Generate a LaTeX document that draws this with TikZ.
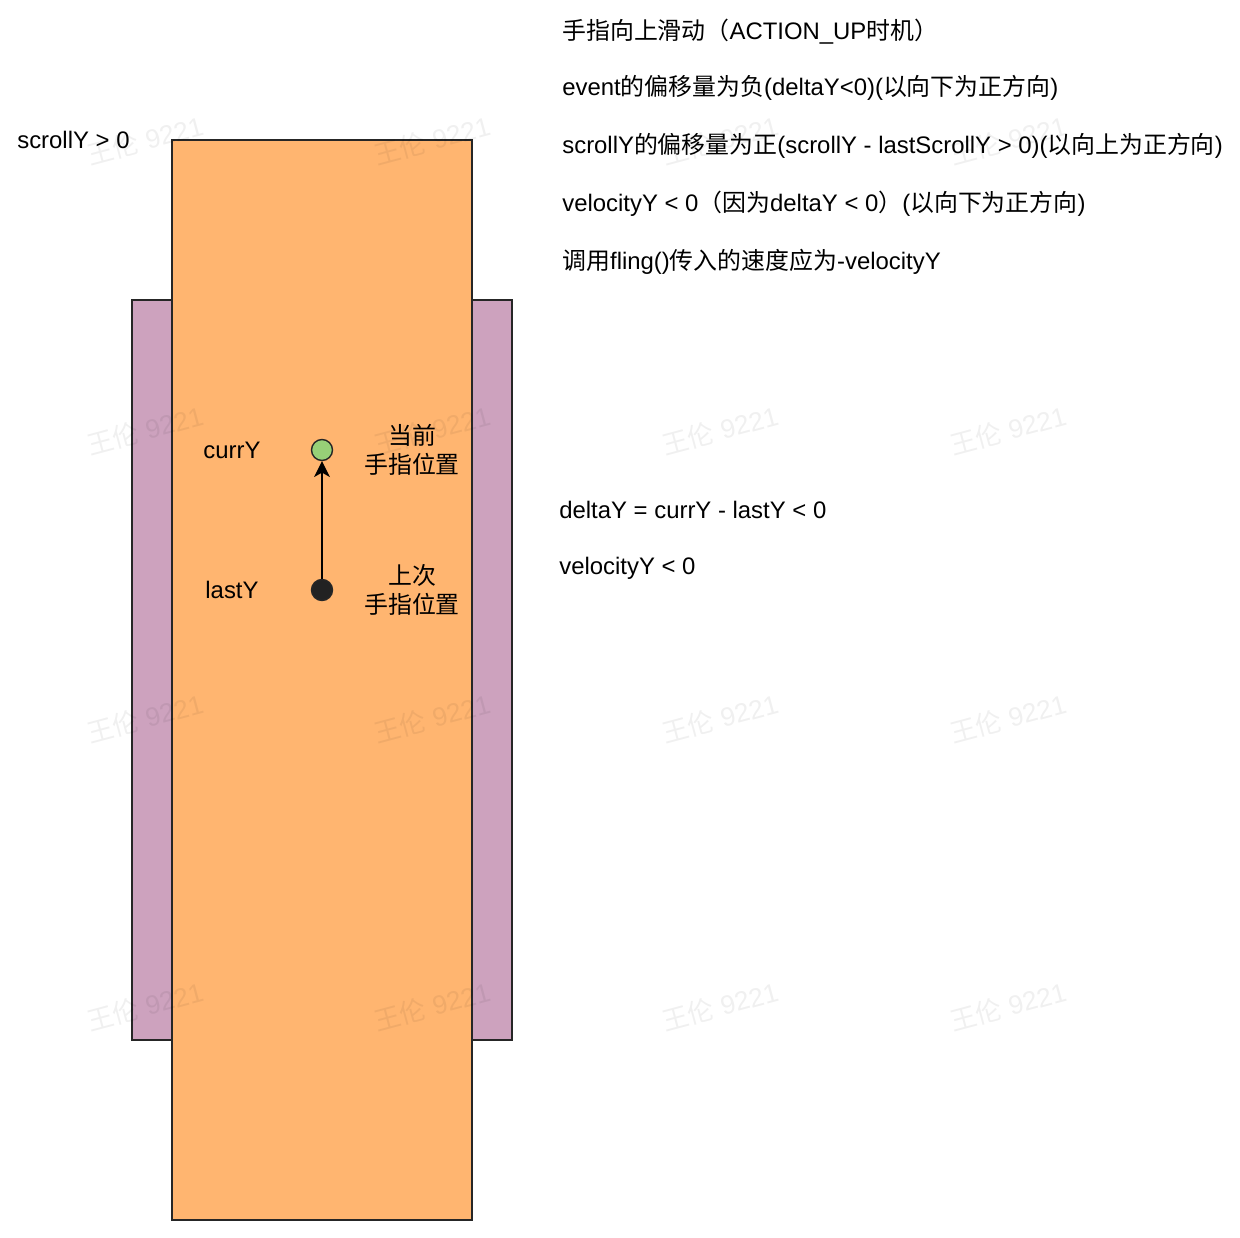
\documentclass[tikz,border=0pt]{standalone}
\usepackage{fontspec}
\setmainfont{Liberation Sans}
\newfontfamily\cjk{Noto Sans CJK SC}
\newcommand{\zh}[1]{{\cjk #1}}
\usetikzlibrary{arrows.meta,positioning}
\definecolor{barfill}{HTML}{FFB570}
\definecolor{sidefill}{HTML}{CDA2BE}
\definecolor{currfill}{HTML}{97D077}
\definecolor{lastfill}{HTML}{222222}
\begin{document}
\begin{tikzpicture}[x=0.02cm,y=-0.02cm,
    txt/.style={font=\fontsize{13.6}{16.6}\selectfont,inner sep=0pt},
    note/.style={txt,anchor=west},
    finger/.style={circle,draw=black!85,line width=0.8pt,minimum size=0.42cm,inner sep=0pt},
    wm/.style={font=\fontsize{15}{15}\selectfont,text=black,opacity=0.06,rotate=15}]
    \useasboundingbox (0,0) rectangle (1240,1237);

    % Contenedores
    \draw[fill=sidefill,draw=black!85,line width=1.1pt] (132,300) rectangle (512,1040);
    \draw[fill=barfill,draw=black!85,line width=1.1pt] (172,140) rectangle (472,1220);
    \node[note] (scroll) at (17,140) {scrollY > 0};

    % Posiciones del dedo
    \node[finger,fill=currfill] (curr) at (322,450) {};
    \node[finger,fill=lastfill] (last) at (322,590) {};
    \draw[-{Stealth[length=9pt,width=9pt,inset=2.5pt]},line width=0.8pt] (last) -- (curr);
    \node[txt] (currlbl) at (232,450) {currY};
    \node[txt] (lastlbl) at (232,590) {lastY};
    \node[txt,align=center] (currtxt) at (412,450) {\zh{当前}\\\zh{手指位置}};
    \node[txt,align=center] (lasttxt) at (412,590) {\zh{上次}\\\zh{手指位置}};

    % Notas
    \node[note] (n1) at (562,32) {\zh{手指向上滑动（}ACTION\_UP\zh{时机）}};
    \node[note] (n2) at (562,88) {event\zh{的偏移量为负}(deltaY<0)(\zh{以向下为正方向})};
    \node[note] (n3) at (562,146) {scrollY\zh{的偏移量为正}(scrollY - lastScrollY > 0)(\zh{以向上为正方向})};
    \node[note] (n4) at (562,204) {velocityY < 0\zh{（因为}deltaY < 0\zh{）}(\zh{以向下为正方向})};
    \node[note] (n5) at (562,262) {\zh{调用}fling()\zh{传入的速度应为}-velocityY};
    \node[note] (d1) at (559,510) {deltaY = currY - lastY < 0};
    \node[note] (d2) at (559,568) {velocityY < 0};

    % Marca de agua
    \foreach \x in {145,432,720,1008}
        \foreach \y in {140,430,718,1006}
            \node[wm] at (\x,\y) {\zh{王伦} 9221};
\end{tikzpicture}
\end{document}
